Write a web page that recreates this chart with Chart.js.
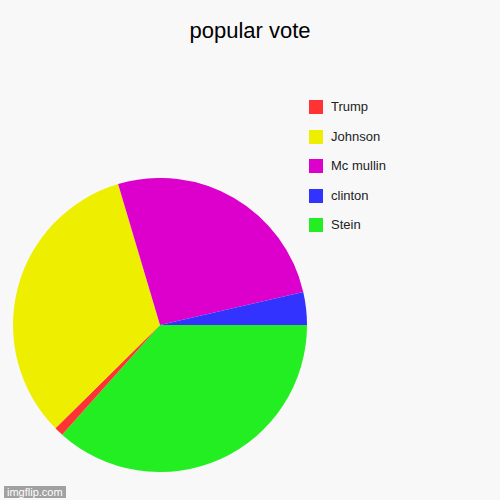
<!DOCTYPE html>
<html>
<head>
<script src="https://cdn.jsdelivr.net/npm/chart.js@4"></script>
<style>
  body { margin: 0; background: #f8f8f8; font-family: "Liberation Sans", Arial, sans-serif; }
  #wrap { position: relative; width: 500px; height: 500px; background: #f8f8f8; }
  #title { position: absolute; top: 18px; width: 500px; text-align: center; font-size: 22px; color: #000; }
  #pie { position: absolute; left: 13px; top: 178px; width: 294px; height: 294px; }
  #legend { position: absolute; left: 309px; top: 99px; font-size: 13px; color: #222; }
  .item { height: 29.5px; display: flex; align-items: flex-start; }
  .box { width: 14px; height: 14px; margin-right: 8px; margin-top: 1px; }
  #mark { position: absolute; left: 4px; bottom: 2px; font-size: 11px; color: #fff; background: rgba(0,0,0,0.35); padding: 0 3px; }
</style>
</head>
<body>
<div id="wrap">
  <div id="title">popular vote</div>
  <div id="pie"><canvas id="c"></canvas></div>
  <div id="legend"></div>
  <div id="mark">imgflip.com</div>
</div>
<script>
// slices, clockwise from 3 o'clock
const labels = ['Stein', 'Trump', 'Johnson', 'Mc mullin', 'clinton'];
const values = [36.6, 1.0, 32.8, 26.0, 3.6];
const colors = ['#22ee22', '#ff3333', '#eeee00', '#dd00cc', '#3333ff'];
// legend order as shown in the picture
const legendOrder = ['Trump', 'Johnson', 'Mc mullin', 'clinton', 'Stein'];

const legend = document.getElementById('legend');
legendOrder.forEach(name => {
    const i = labels.indexOf(name);
    const row = document.createElement('div');
    row.className = 'item';
    row.innerHTML = `<span class="box" style="background:${colors[i]}"></span><span>${name}</span>`;
    legend.appendChild(row);
});

new Chart(document.getElementById('c'), {
    type: 'pie',
    data: {
        labels: labels,
        datasets: [{ data: values, backgroundColor: colors, borderWidth: 0 }]
    },
    options: {
        animation: false,
        responsive: true,
        maintainAspectRatio: false,
        rotation: 90,
        plugins: { legend: { display: false }, tooltip: { enabled: false } }
    }
});
</script>
</body>
</html>
